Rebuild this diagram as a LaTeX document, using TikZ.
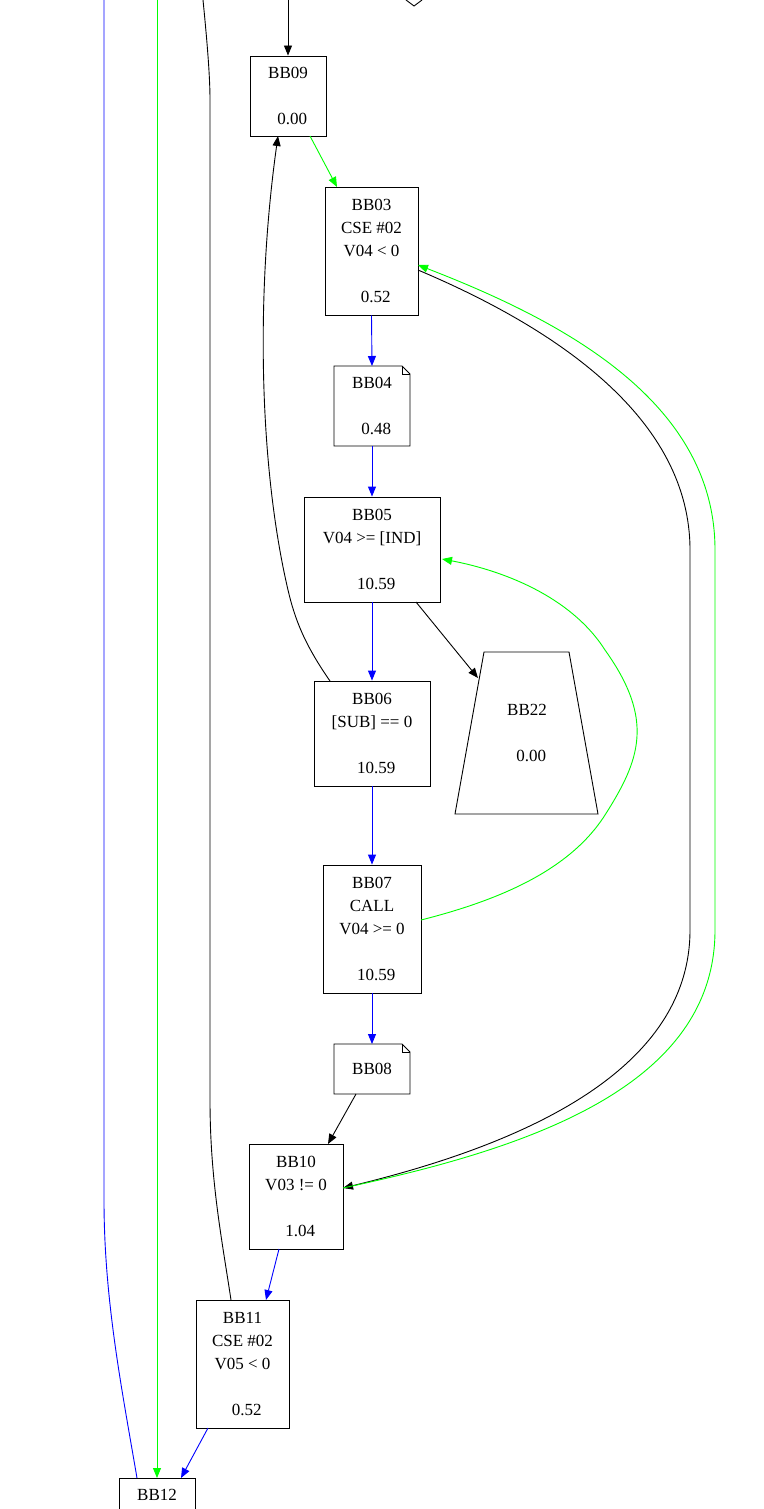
\documentclass[tikz,border=0pt]{standalone}
\usepackage{fontspec}
\setmainfont{Liberation Serif}
\usetikzlibrary{shapes.geometric,shapes.misc,arrows.meta}
\definecolor{grn}{RGB}{0,255,0}
\tikzset{
 bx/.style={draw,line width=0.9pt,minimum width=#1,inner sep=0pt,font=\fontsize{17}{23}\selectfont,align=center},
 tx/.style={font=\fontsize{17}{23}\selectfont,align=center},
 e/.style={line width=0.9pt,-{Triangle[length=10pt,width=8pt]}},
 en/.style={line width=0.9pt},
}
\begin{document}
\begin{tikzpicture}[x=1pt,y=-1pt]
\useasboundingbox (0,0) rectangle (763,1509);
% rectangles
\node[bx=76pt,minimum height=80pt] (bb09) at (288,96) {BB09\\[23pt]\ \ 0.00};
\node[bx=93pt,minimum height=128pt] (bb03) at (371.5,251) {BB03\\CSE \#02\\V04 < 0\\[23pt]\ \ 0.52};
\node[bx=136pt,minimum height=105pt] (bb05) at (372,549.5) {BB05\\V04 >= {}[IND]\\[23pt]\ \ 10.59};
\node[bx=116pt,minimum height=105pt] (bb06) at (372,733.5) {BB06\\{}[SUB] == 0\\[23pt]\ \ 10.59};
\node[bx=98pt,minimum height=128pt] (bb07) at (372,929) {BB07\\CALL\\V04 >= 0\\[23pt]\ \ 10.59};
\node[bx=94pt,minimum height=105pt] (bb10) at (296,1196.5) {BB10\\V03 != 0\\[23pt]\ \ 1.04};
\node[bx=93pt,minimum height=128pt] (bb11) at (242.5,1364) {BB11\\CSE \#02\\V05 < 0\\[23pt]\ \ 0.52};
\node[bx=76pt,minimum height=40pt,anchor=north] (bb12) at (157,1478) {};
\node[tx] at (157,1495) {BB12};
% notes
\draw[line width=0.9pt] (334,366) -- (402,366) -- (410,374) -- (410,446) -- (334,446) -- cycle;
\draw[line width=0.9pt] (402,366) -- (402,374) -- (410,374);
\node[tx] (bb04) at (372,406) {BB04\\[23pt]\ \ 0.48};
\coordinate (bb04t) at (372,366); \coordinate (bb04b) at (372,446);
\draw[line width=0.9pt] (334,1044) -- (402,1044) -- (410,1052) -- (410,1094) -- (334,1094) -- cycle;
\draw[line width=0.9pt] (402,1044) -- (402,1052) -- (410,1052);
\node[tx] (bb08) at (372,1069) {BB08};
\coordinate (bb08t) at (372,1044); \coordinate (bb08b) at (356,1094);
% trapezium
\draw[line width=0.9pt] (484,652) -- (569,652) -- (598,814) -- (455,814) -- cycle;
\node[tx] (bb22) at (527,733) {BB22\\[23pt]\ \ 0.00};
\coordinate (bb22t) at (478,678);
% diamond partial
\draw[line width=0.9pt] (406,0) -- (414,6) -- (422,0);
% top coords
\coordinate (t1) at (288,0); \coordinate (t2) at (203,0);
\coordinate (t3) at (157,0); \coordinate (t4) at (104,0);
% edges
\draw[e] (t1) -- (bb09.north);
\draw[e,grn] (310,136) -- (337,187);
\draw[e,blue] (bb03.south) -- (bb04t);
\draw[e,blue] (bb04b) -- (bb05.north);
\draw[e,blue] (bb05.south) -- (bb06.north);
\draw[e] (416,602) -- (bb22t);
\draw[e,blue] (bb06.south) -- (bb07.north);
\draw[e,grn] (421,920) .. controls (500,900) and (570,870) .. (605,815) .. controls (640,760) and (655,720) .. (605,650) .. controls (570,595) and (500,570) .. (442,559);
\draw[e,blue] (bb07.south) -- (bb08t);
\draw[e] (bb08b) -- (328,1144);
\draw[e] (418,270) .. controls (560,330) and (690,420) .. (690,550) -- (690,930) .. controls (690,1080) and (500,1150) .. (343,1188);
\draw[e,grn] (343,1188) .. controls (520,1150) and (715,1090) .. (715,930) -- (715,550) .. controls (715,400) and (560,320) .. (418,265);
\draw[e] (330,681) .. controls (305,645) and (295,620) .. (288,590) .. controls (260,470) and (255,300) .. (278,136);
\draw[e,blue] (279,1249) -- (266,1300);
\draw[e,blue] (208,1428) -- (181,1478);
\draw[en] (t2) .. controls (208,50) and (210,80) .. (210,100) -- (210,1100) .. controls (210,1180) and (222,1240) .. (231,1300);
\draw[e,grn] (t3) -- (157,1478);
\draw[en,blue] (t4) -- (104,1200) .. controls (104,1300) and (122,1390) .. (137,1478);
\end{tikzpicture}
\end{document}
